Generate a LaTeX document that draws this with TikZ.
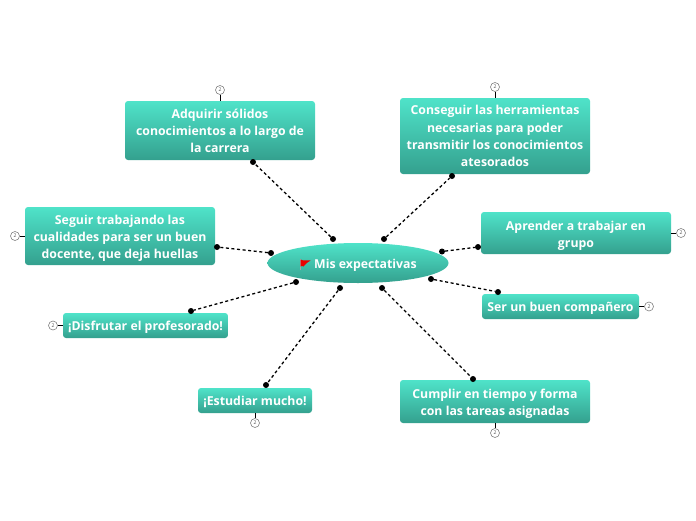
\documentclass[tikz,border=0pt]{standalone}
\usepackage{fontspec}
\setmainfont{Open Sans}
\definecolor{topcol}{HTML}{4FE3C9}
\definecolor{botcol}{HTML}{34A08E}
\definecolor{badgecol}{HTML}{808080}
\newcommand{\lift}[1]{\rule{0pt}{#1}}
\tikzset{
  topicbox/.style={rectangle, rounded corners=3pt, top color=topcol, bottom color=botcol, draw=none,
    inner sep=0pt, align=center, text=white, font=\bfseries\fontsize{12.3}{17.2}\selectfont},
  rootnode/.style={ellipse, top color=topcol, bottom color=botcol, draw=none, inner sep=0pt,
    minimum width=181pt, minimum height=40pt, text=white, font=\bfseries\fontsize{12.3}{17.2}\selectfont},
  dotnode/.style={circle, fill=black, inner sep=0pt, minimum size=6pt},
  badge/.style={circle, draw=badgecol, fill=white, inner sep=0pt, minimum size=9pt, line width=0.6pt,
    text=black!70, font=\fontsize{5}{5}\selectfont},
  link/.style={line width=1.3pt, dash pattern=on 3pt off 2.6pt},
  stub/.style={line width=1pt}
}
\usetikzlibrary{shapes.geometric}
\begin{document}
\begin{tikzpicture}[x=1pt, y=-1pt]

    \useasboundingbox (0,0) rectangle (696,520);

    % Nodes
    \node [rootnode] (root) at (358,263) {\hspace{15pt}\lift{13.5pt}Mis expectativas};
    \node [topicbox, minimum width=190pt, minimum height=59pt] (adquirir) at (220,130.5) {\lift{10.5pt}Adquirir sólidos\\conocimientos a lo largo de\\la carrera};
    \node [topicbox, minimum width=190pt, minimum height=76pt] (conseguir) at (495,136) {Conseguir las herramientas\\necesarias para poder\\transmitir los conocimientos\\atesorados};
    \node [topicbox, minimum width=190pt, minimum height=42pt] (aprender) at (576,233) {\lift{15.5pt}Aprender a trabajar en\\grupo};
    \node [topicbox, minimum width=157pt, minimum height=25pt] (companero) at (560.5,306.5) {\lift{12.5pt}Ser un buen compañero};
    \node [topicbox, minimum width=190pt, minimum height=43pt] (cumplir) at (495,401.5) {\lift{13.5pt}Cumplir en tiempo y forma\\con las tareas asignadas};
    \node [topicbox, minimum width=114pt, minimum height=25pt] (estudiar) at (255,400.5) {\lift{12.5pt}¡Estudiar mucho!};
    \node [topicbox, minimum width=165pt, minimum height=25pt] (disfrutar) at (145.5,325.5) {\lift{12.5pt}¡Disfrutar el profesorado!};
    \node [topicbox, minimum width=190pt, minimum height=58pt] (seguir) at (120,236) {\lift{13.5pt}Seguir trabajando las\\cualidades para ser un buen\\docente, que deja huellas};

    % Flag
    \draw [gray!70, line width=0.6pt] (300.5,259) -- (300.5,270);
    \fill [red!92!black] (300.5,259.5) .. controls (304,261.5) and (307,259.5) .. (310.5,260.5) .. controls (308,262) and (305,264) .. (303.5,266.5) .. controls (302.5,265.5) and (301.5,266) .. (300.5,266.5) -- cycle;

    % Dots
    \node [dotnode] (r1) at (333,239) {};
    \node [dotnode] (r2) at (384,239) {};
    \node [dotnode] (r3) at (442,251.5) {};
    \node [dotnode] (r4) at (431,279) {};
    \node [dotnode] (r5) at (382,288) {};
    \node [dotnode] (r6) at (340,288) {};
    \node [dotnode] (r7) at (296,282) {};
    \node [dotnode] (r8) at (271,253) {};
    \node [dotnode] (t1) at (253,162) {};
    \node [dotnode] (t2) at (452,176) {};
    \node [dotnode] (t3) at (478,247) {};
    \node [dotnode] (t4) at (498,292) {};
    \node [dotnode] (t5) at (473,379) {};
    \node [dotnode] (t6) at (266,385) {};
    \node [dotnode] (t7) at (191,311) {};
    \node [dotnode] (t8) at (217,247) {};

    % Badges
    \node [badge] (b1) at (220,90) {2};
    \node [badge] (b2) at (495,87) {2};
    \node [badge] (b3) at (681,233) {2};
    \node [badge] (b4) at (649,306.5) {2};
    \node [badge] (b5) at (495,433) {2};
    \node [badge] (b6) at (255,423) {2};
    \node [badge] (b7) at (53,325.5) {2};
    \node [badge] (b8) at (15,236) {2};

    % Links
    \draw [link] (r1) -- (t1);
    \draw [link] (r2) -- (t2);
    \draw [link] (r3) -- (t3);
    \draw [link] (r4) -- (t4);
    \draw [link] (r5) -- (t5);
    \draw [link] (r6) -- (t6);
    \draw [link] (r7) -- (t7);
    \draw [link] (r8) -- (t8);

    % Stubs
    \draw [stub] (adquirir) -- (b1);
    \draw [stub] (conseguir) -- (b2);
    \draw [stub] (aprender) -- (b3);
    \draw [stub] (companero) -- (b4);
    \draw [stub] (cumplir) -- (b5);
    \draw [stub] (estudiar) -- (b6);
    \draw [stub] (disfrutar) -- (b7);
    \draw [stub] (seguir) -- (b8);

\end{tikzpicture}
\end{document}
